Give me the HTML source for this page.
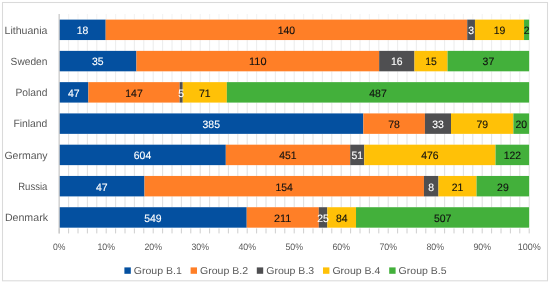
<!DOCTYPE html>
<html lang="en"><head><meta charset="utf-8"><title>Chart</title>
<style>
html,body{margin:0;padding:0;background:#fff;}
body{width:550px;height:284px;overflow:hidden;}
svg{display:block;}
text{font-family:"Liberation Sans",sans-serif;text-rendering:geometricPrecision;}
</style></head><body>
<svg width="550" height="284" viewBox="0 0 550 284">
<rect x="0" y="0" width="550" height="284" fill="#ffffff"/>
<rect x="2.5" y="2.5" width="545" height="278.3" fill="none" stroke="#DADADA" stroke-width="1.05"/>

<g stroke="#E2E2E2" stroke-width="0.65">
<line x1="68.60" y1="40.05" x2="68.60" y2="50.87"/>
<line x1="78.00" y1="40.05" x2="78.00" y2="50.87"/>
<line x1="87.40" y1="40.05" x2="87.40" y2="50.87"/>
<line x1="96.80" y1="40.05" x2="96.80" y2="50.87"/>
<line x1="106.20" y1="40.05" x2="106.20" y2="50.87"/>
<line x1="115.60" y1="40.05" x2="115.60" y2="50.87"/>
<line x1="125.00" y1="40.05" x2="125.00" y2="50.87"/>
<line x1="134.40" y1="40.05" x2="134.40" y2="50.87"/>
<line x1="143.80" y1="40.05" x2="143.80" y2="50.87"/>
<line x1="153.20" y1="40.05" x2="153.20" y2="50.87"/>
<line x1="162.60" y1="40.05" x2="162.60" y2="50.87"/>
<line x1="172.00" y1="40.05" x2="172.00" y2="50.87"/>
<line x1="181.40" y1="40.05" x2="181.40" y2="50.87"/>
<line x1="190.80" y1="40.05" x2="190.80" y2="50.87"/>
<line x1="200.20" y1="40.05" x2="200.20" y2="50.87"/>
<line x1="209.60" y1="40.05" x2="209.60" y2="50.87"/>
<line x1="219.00" y1="40.05" x2="219.00" y2="50.87"/>
<line x1="228.40" y1="40.05" x2="228.40" y2="50.87"/>
<line x1="237.80" y1="40.05" x2="237.80" y2="50.87"/>
<line x1="247.20" y1="40.05" x2="247.20" y2="50.87"/>
<line x1="256.60" y1="40.05" x2="256.60" y2="50.87"/>
<line x1="266.00" y1="40.05" x2="266.00" y2="50.87"/>
<line x1="275.40" y1="40.05" x2="275.40" y2="50.87"/>
<line x1="284.80" y1="40.05" x2="284.80" y2="50.87"/>
<line x1="294.20" y1="40.05" x2="294.20" y2="50.87"/>
<line x1="303.60" y1="40.05" x2="303.60" y2="50.87"/>
<line x1="313.00" y1="40.05" x2="313.00" y2="50.87"/>
<line x1="322.40" y1="40.05" x2="322.40" y2="50.87"/>
<line x1="331.80" y1="40.05" x2="331.80" y2="50.87"/>
<line x1="341.20" y1="40.05" x2="341.20" y2="50.87"/>
<line x1="350.60" y1="40.05" x2="350.60" y2="50.87"/>
<line x1="360.00" y1="40.05" x2="360.00" y2="50.87"/>
<line x1="369.40" y1="40.05" x2="369.40" y2="50.87"/>
<line x1="378.80" y1="40.05" x2="378.80" y2="50.87"/>
<line x1="388.20" y1="40.05" x2="388.20" y2="50.87"/>
<line x1="397.60" y1="40.05" x2="397.60" y2="50.87"/>
<line x1="407.00" y1="40.05" x2="407.00" y2="50.87"/>
<line x1="416.40" y1="40.05" x2="416.40" y2="50.87"/>
<line x1="425.80" y1="40.05" x2="425.80" y2="50.87"/>
<line x1="435.20" y1="40.05" x2="435.20" y2="50.87"/>
<line x1="444.60" y1="40.05" x2="444.60" y2="50.87"/>
<line x1="454.00" y1="40.05" x2="454.00" y2="50.87"/>
<line x1="463.40" y1="40.05" x2="463.40" y2="50.87"/>
<line x1="472.80" y1="40.05" x2="472.80" y2="50.87"/>
<line x1="482.20" y1="40.05" x2="482.20" y2="50.87"/>
<line x1="491.60" y1="40.05" x2="491.60" y2="50.87"/>
<line x1="501.00" y1="40.05" x2="501.00" y2="50.87"/>
<line x1="510.40" y1="40.05" x2="510.40" y2="50.87"/>
<line x1="519.80" y1="40.05" x2="519.80" y2="50.87"/>
<line x1="529.20" y1="40.05" x2="529.20" y2="50.87"/>
</g>
<g stroke="#E0E0E0" stroke-width="0.65">
<line x1="68.60" y1="71.32" x2="68.60" y2="82.14"/>
<line x1="78.00" y1="71.32" x2="78.00" y2="82.14"/>
<line x1="87.40" y1="71.32" x2="87.40" y2="82.14"/>
<line x1="96.80" y1="71.32" x2="96.80" y2="82.14"/>
<line x1="106.20" y1="71.32" x2="106.20" y2="82.14"/>
<line x1="115.60" y1="71.32" x2="115.60" y2="82.14"/>
<line x1="125.00" y1="71.32" x2="125.00" y2="82.14"/>
<line x1="134.40" y1="71.32" x2="134.40" y2="82.14"/>
<line x1="143.80" y1="71.32" x2="143.80" y2="82.14"/>
<line x1="153.20" y1="71.32" x2="153.20" y2="82.14"/>
<line x1="162.60" y1="71.32" x2="162.60" y2="82.14"/>
<line x1="172.00" y1="71.32" x2="172.00" y2="82.14"/>
<line x1="181.40" y1="71.32" x2="181.40" y2="82.14"/>
<line x1="190.80" y1="71.32" x2="190.80" y2="82.14"/>
<line x1="200.20" y1="71.32" x2="200.20" y2="82.14"/>
<line x1="209.60" y1="71.32" x2="209.60" y2="82.14"/>
<line x1="219.00" y1="71.32" x2="219.00" y2="82.14"/>
<line x1="228.40" y1="71.32" x2="228.40" y2="82.14"/>
<line x1="237.80" y1="71.32" x2="237.80" y2="82.14"/>
<line x1="247.20" y1="71.32" x2="247.20" y2="82.14"/>
<line x1="256.60" y1="71.32" x2="256.60" y2="82.14"/>
<line x1="266.00" y1="71.32" x2="266.00" y2="82.14"/>
<line x1="275.40" y1="71.32" x2="275.40" y2="82.14"/>
<line x1="284.80" y1="71.32" x2="284.80" y2="82.14"/>
<line x1="294.20" y1="71.32" x2="294.20" y2="82.14"/>
<line x1="303.60" y1="71.32" x2="303.60" y2="82.14"/>
<line x1="313.00" y1="71.32" x2="313.00" y2="82.14"/>
<line x1="322.40" y1="71.32" x2="322.40" y2="82.14"/>
<line x1="331.80" y1="71.32" x2="331.80" y2="82.14"/>
<line x1="341.20" y1="71.32" x2="341.20" y2="82.14"/>
<line x1="350.60" y1="71.32" x2="350.60" y2="82.14"/>
<line x1="360.00" y1="71.32" x2="360.00" y2="82.14"/>
<line x1="369.40" y1="71.32" x2="369.40" y2="82.14"/>
<line x1="378.80" y1="71.32" x2="378.80" y2="82.14"/>
<line x1="388.20" y1="71.32" x2="388.20" y2="82.14"/>
<line x1="397.60" y1="71.32" x2="397.60" y2="82.14"/>
<line x1="407.00" y1="71.32" x2="407.00" y2="82.14"/>
<line x1="416.40" y1="71.32" x2="416.40" y2="82.14"/>
<line x1="425.80" y1="71.32" x2="425.80" y2="82.14"/>
<line x1="435.20" y1="71.32" x2="435.20" y2="82.14"/>
<line x1="444.60" y1="71.32" x2="444.60" y2="82.14"/>
<line x1="454.00" y1="71.32" x2="454.00" y2="82.14"/>
<line x1="463.40" y1="71.32" x2="463.40" y2="82.14"/>
<line x1="472.80" y1="71.32" x2="472.80" y2="82.14"/>
<line x1="482.20" y1="71.32" x2="482.20" y2="82.14"/>
<line x1="491.60" y1="71.32" x2="491.60" y2="82.14"/>
<line x1="501.00" y1="71.32" x2="501.00" y2="82.14"/>
<line x1="510.40" y1="71.32" x2="510.40" y2="82.14"/>
<line x1="519.80" y1="71.32" x2="519.80" y2="82.14"/>
<line x1="529.20" y1="71.32" x2="529.20" y2="82.14"/>
</g>
<g stroke="#DADADA" stroke-width="0.65">
<line x1="68.60" y1="102.59" x2="68.60" y2="113.41"/>
<line x1="78.00" y1="102.59" x2="78.00" y2="113.41"/>
<line x1="87.40" y1="102.59" x2="87.40" y2="113.41"/>
<line x1="96.80" y1="102.59" x2="96.80" y2="113.41"/>
<line x1="106.20" y1="102.59" x2="106.20" y2="113.41"/>
<line x1="115.60" y1="102.59" x2="115.60" y2="113.41"/>
<line x1="125.00" y1="102.59" x2="125.00" y2="113.41"/>
<line x1="134.40" y1="102.59" x2="134.40" y2="113.41"/>
<line x1="143.80" y1="102.59" x2="143.80" y2="113.41"/>
<line x1="153.20" y1="102.59" x2="153.20" y2="113.41"/>
<line x1="162.60" y1="102.59" x2="162.60" y2="113.41"/>
<line x1="172.00" y1="102.59" x2="172.00" y2="113.41"/>
<line x1="181.40" y1="102.59" x2="181.40" y2="113.41"/>
<line x1="190.80" y1="102.59" x2="190.80" y2="113.41"/>
<line x1="200.20" y1="102.59" x2="200.20" y2="113.41"/>
<line x1="209.60" y1="102.59" x2="209.60" y2="113.41"/>
<line x1="219.00" y1="102.59" x2="219.00" y2="113.41"/>
<line x1="228.40" y1="102.59" x2="228.40" y2="113.41"/>
<line x1="237.80" y1="102.59" x2="237.80" y2="113.41"/>
<line x1="247.20" y1="102.59" x2="247.20" y2="113.41"/>
<line x1="256.60" y1="102.59" x2="256.60" y2="113.41"/>
<line x1="266.00" y1="102.59" x2="266.00" y2="113.41"/>
<line x1="275.40" y1="102.59" x2="275.40" y2="113.41"/>
<line x1="284.80" y1="102.59" x2="284.80" y2="113.41"/>
<line x1="294.20" y1="102.59" x2="294.20" y2="113.41"/>
<line x1="303.60" y1="102.59" x2="303.60" y2="113.41"/>
<line x1="313.00" y1="102.59" x2="313.00" y2="113.41"/>
<line x1="322.40" y1="102.59" x2="322.40" y2="113.41"/>
<line x1="331.80" y1="102.59" x2="331.80" y2="113.41"/>
<line x1="341.20" y1="102.59" x2="341.20" y2="113.41"/>
<line x1="350.60" y1="102.59" x2="350.60" y2="113.41"/>
<line x1="360.00" y1="102.59" x2="360.00" y2="113.41"/>
<line x1="369.40" y1="102.59" x2="369.40" y2="113.41"/>
<line x1="378.80" y1="102.59" x2="378.80" y2="113.41"/>
<line x1="388.20" y1="102.59" x2="388.20" y2="113.41"/>
<line x1="397.60" y1="102.59" x2="397.60" y2="113.41"/>
<line x1="407.00" y1="102.59" x2="407.00" y2="113.41"/>
<line x1="416.40" y1="102.59" x2="416.40" y2="113.41"/>
<line x1="425.80" y1="102.59" x2="425.80" y2="113.41"/>
<line x1="435.20" y1="102.59" x2="435.20" y2="113.41"/>
<line x1="444.60" y1="102.59" x2="444.60" y2="113.41"/>
<line x1="454.00" y1="102.59" x2="454.00" y2="113.41"/>
<line x1="463.40" y1="102.59" x2="463.40" y2="113.41"/>
<line x1="472.80" y1="102.59" x2="472.80" y2="113.41"/>
<line x1="482.20" y1="102.59" x2="482.20" y2="113.41"/>
<line x1="491.60" y1="102.59" x2="491.60" y2="113.41"/>
<line x1="501.00" y1="102.59" x2="501.00" y2="113.41"/>
<line x1="510.40" y1="102.59" x2="510.40" y2="113.41"/>
<line x1="519.80" y1="102.59" x2="519.80" y2="113.41"/>
<line x1="529.20" y1="102.59" x2="529.20" y2="113.41"/>
</g>
<g stroke="#D4D4D4" stroke-width="0.65">
<line x1="68.60" y1="133.86" x2="68.60" y2="144.68"/>
<line x1="78.00" y1="133.86" x2="78.00" y2="144.68"/>
<line x1="87.40" y1="133.86" x2="87.40" y2="144.68"/>
<line x1="96.80" y1="133.86" x2="96.80" y2="144.68"/>
<line x1="106.20" y1="133.86" x2="106.20" y2="144.68"/>
<line x1="115.60" y1="133.86" x2="115.60" y2="144.68"/>
<line x1="125.00" y1="133.86" x2="125.00" y2="144.68"/>
<line x1="134.40" y1="133.86" x2="134.40" y2="144.68"/>
<line x1="143.80" y1="133.86" x2="143.80" y2="144.68"/>
<line x1="153.20" y1="133.86" x2="153.20" y2="144.68"/>
<line x1="162.60" y1="133.86" x2="162.60" y2="144.68"/>
<line x1="172.00" y1="133.86" x2="172.00" y2="144.68"/>
<line x1="181.40" y1="133.86" x2="181.40" y2="144.68"/>
<line x1="190.80" y1="133.86" x2="190.80" y2="144.68"/>
<line x1="200.20" y1="133.86" x2="200.20" y2="144.68"/>
<line x1="209.60" y1="133.86" x2="209.60" y2="144.68"/>
<line x1="219.00" y1="133.86" x2="219.00" y2="144.68"/>
<line x1="228.40" y1="133.86" x2="228.40" y2="144.68"/>
<line x1="237.80" y1="133.86" x2="237.80" y2="144.68"/>
<line x1="247.20" y1="133.86" x2="247.20" y2="144.68"/>
<line x1="256.60" y1="133.86" x2="256.60" y2="144.68"/>
<line x1="266.00" y1="133.86" x2="266.00" y2="144.68"/>
<line x1="275.40" y1="133.86" x2="275.40" y2="144.68"/>
<line x1="284.80" y1="133.86" x2="284.80" y2="144.68"/>
<line x1="294.20" y1="133.86" x2="294.20" y2="144.68"/>
<line x1="303.60" y1="133.86" x2="303.60" y2="144.68"/>
<line x1="313.00" y1="133.86" x2="313.00" y2="144.68"/>
<line x1="322.40" y1="133.86" x2="322.40" y2="144.68"/>
<line x1="331.80" y1="133.86" x2="331.80" y2="144.68"/>
<line x1="341.20" y1="133.86" x2="341.20" y2="144.68"/>
<line x1="350.60" y1="133.86" x2="350.60" y2="144.68"/>
<line x1="360.00" y1="133.86" x2="360.00" y2="144.68"/>
<line x1="369.40" y1="133.86" x2="369.40" y2="144.68"/>
<line x1="378.80" y1="133.86" x2="378.80" y2="144.68"/>
<line x1="388.20" y1="133.86" x2="388.20" y2="144.68"/>
<line x1="397.60" y1="133.86" x2="397.60" y2="144.68"/>
<line x1="407.00" y1="133.86" x2="407.00" y2="144.68"/>
<line x1="416.40" y1="133.86" x2="416.40" y2="144.68"/>
<line x1="425.80" y1="133.86" x2="425.80" y2="144.68"/>
<line x1="435.20" y1="133.86" x2="435.20" y2="144.68"/>
<line x1="444.60" y1="133.86" x2="444.60" y2="144.68"/>
<line x1="454.00" y1="133.86" x2="454.00" y2="144.68"/>
<line x1="463.40" y1="133.86" x2="463.40" y2="144.68"/>
<line x1="472.80" y1="133.86" x2="472.80" y2="144.68"/>
<line x1="482.20" y1="133.86" x2="482.20" y2="144.68"/>
<line x1="491.60" y1="133.86" x2="491.60" y2="144.68"/>
<line x1="501.00" y1="133.86" x2="501.00" y2="144.68"/>
<line x1="510.40" y1="133.86" x2="510.40" y2="144.68"/>
<line x1="519.80" y1="133.86" x2="519.80" y2="144.68"/>
<line x1="529.20" y1="133.86" x2="529.20" y2="144.68"/>
</g>
<g stroke="#CECECE" stroke-width="0.65">
<line x1="68.60" y1="165.13" x2="68.60" y2="175.95"/>
<line x1="78.00" y1="165.13" x2="78.00" y2="175.95"/>
<line x1="87.40" y1="165.13" x2="87.40" y2="175.95"/>
<line x1="96.80" y1="165.13" x2="96.80" y2="175.95"/>
<line x1="106.20" y1="165.13" x2="106.20" y2="175.95"/>
<line x1="115.60" y1="165.13" x2="115.60" y2="175.95"/>
<line x1="125.00" y1="165.13" x2="125.00" y2="175.95"/>
<line x1="134.40" y1="165.13" x2="134.40" y2="175.95"/>
<line x1="143.80" y1="165.13" x2="143.80" y2="175.95"/>
<line x1="153.20" y1="165.13" x2="153.20" y2="175.95"/>
<line x1="162.60" y1="165.13" x2="162.60" y2="175.95"/>
<line x1="172.00" y1="165.13" x2="172.00" y2="175.95"/>
<line x1="181.40" y1="165.13" x2="181.40" y2="175.95"/>
<line x1="190.80" y1="165.13" x2="190.80" y2="175.95"/>
<line x1="200.20" y1="165.13" x2="200.20" y2="175.95"/>
<line x1="209.60" y1="165.13" x2="209.60" y2="175.95"/>
<line x1="219.00" y1="165.13" x2="219.00" y2="175.95"/>
<line x1="228.40" y1="165.13" x2="228.40" y2="175.95"/>
<line x1="237.80" y1="165.13" x2="237.80" y2="175.95"/>
<line x1="247.20" y1="165.13" x2="247.20" y2="175.95"/>
<line x1="256.60" y1="165.13" x2="256.60" y2="175.95"/>
<line x1="266.00" y1="165.13" x2="266.00" y2="175.95"/>
<line x1="275.40" y1="165.13" x2="275.40" y2="175.95"/>
<line x1="284.80" y1="165.13" x2="284.80" y2="175.95"/>
<line x1="294.20" y1="165.13" x2="294.20" y2="175.95"/>
<line x1="303.60" y1="165.13" x2="303.60" y2="175.95"/>
<line x1="313.00" y1="165.13" x2="313.00" y2="175.95"/>
<line x1="322.40" y1="165.13" x2="322.40" y2="175.95"/>
<line x1="331.80" y1="165.13" x2="331.80" y2="175.95"/>
<line x1="341.20" y1="165.13" x2="341.20" y2="175.95"/>
<line x1="350.60" y1="165.13" x2="350.60" y2="175.95"/>
<line x1="360.00" y1="165.13" x2="360.00" y2="175.95"/>
<line x1="369.40" y1="165.13" x2="369.40" y2="175.95"/>
<line x1="378.80" y1="165.13" x2="378.80" y2="175.95"/>
<line x1="388.20" y1="165.13" x2="388.20" y2="175.95"/>
<line x1="397.60" y1="165.13" x2="397.60" y2="175.95"/>
<line x1="407.00" y1="165.13" x2="407.00" y2="175.95"/>
<line x1="416.40" y1="165.13" x2="416.40" y2="175.95"/>
<line x1="425.80" y1="165.13" x2="425.80" y2="175.95"/>
<line x1="435.20" y1="165.13" x2="435.20" y2="175.95"/>
<line x1="444.60" y1="165.13" x2="444.60" y2="175.95"/>
<line x1="454.00" y1="165.13" x2="454.00" y2="175.95"/>
<line x1="463.40" y1="165.13" x2="463.40" y2="175.95"/>
<line x1="472.80" y1="165.13" x2="472.80" y2="175.95"/>
<line x1="482.20" y1="165.13" x2="482.20" y2="175.95"/>
<line x1="491.60" y1="165.13" x2="491.60" y2="175.95"/>
<line x1="501.00" y1="165.13" x2="501.00" y2="175.95"/>
<line x1="510.40" y1="165.13" x2="510.40" y2="175.95"/>
<line x1="519.80" y1="165.13" x2="519.80" y2="175.95"/>
<line x1="529.20" y1="165.13" x2="529.20" y2="175.95"/>
</g>
<g stroke="#CECECE" stroke-width="0.65">
<line x1="68.60" y1="196.40" x2="68.60" y2="207.22"/>
<line x1="78.00" y1="196.40" x2="78.00" y2="207.22"/>
<line x1="87.40" y1="196.40" x2="87.40" y2="207.22"/>
<line x1="96.80" y1="196.40" x2="96.80" y2="207.22"/>
<line x1="106.20" y1="196.40" x2="106.20" y2="207.22"/>
<line x1="115.60" y1="196.40" x2="115.60" y2="207.22"/>
<line x1="125.00" y1="196.40" x2="125.00" y2="207.22"/>
<line x1="134.40" y1="196.40" x2="134.40" y2="207.22"/>
<line x1="143.80" y1="196.40" x2="143.80" y2="207.22"/>
<line x1="153.20" y1="196.40" x2="153.20" y2="207.22"/>
<line x1="162.60" y1="196.40" x2="162.60" y2="207.22"/>
<line x1="172.00" y1="196.40" x2="172.00" y2="207.22"/>
<line x1="181.40" y1="196.40" x2="181.40" y2="207.22"/>
<line x1="190.80" y1="196.40" x2="190.80" y2="207.22"/>
<line x1="200.20" y1="196.40" x2="200.20" y2="207.22"/>
<line x1="209.60" y1="196.40" x2="209.60" y2="207.22"/>
<line x1="219.00" y1="196.40" x2="219.00" y2="207.22"/>
<line x1="228.40" y1="196.40" x2="228.40" y2="207.22"/>
<line x1="237.80" y1="196.40" x2="237.80" y2="207.22"/>
<line x1="247.20" y1="196.40" x2="247.20" y2="207.22"/>
<line x1="256.60" y1="196.40" x2="256.60" y2="207.22"/>
<line x1="266.00" y1="196.40" x2="266.00" y2="207.22"/>
<line x1="275.40" y1="196.40" x2="275.40" y2="207.22"/>
<line x1="284.80" y1="196.40" x2="284.80" y2="207.22"/>
<line x1="294.20" y1="196.40" x2="294.20" y2="207.22"/>
<line x1="303.60" y1="196.40" x2="303.60" y2="207.22"/>
<line x1="313.00" y1="196.40" x2="313.00" y2="207.22"/>
<line x1="322.40" y1="196.40" x2="322.40" y2="207.22"/>
<line x1="331.80" y1="196.40" x2="331.80" y2="207.22"/>
<line x1="341.20" y1="196.40" x2="341.20" y2="207.22"/>
<line x1="350.60" y1="196.40" x2="350.60" y2="207.22"/>
<line x1="360.00" y1="196.40" x2="360.00" y2="207.22"/>
<line x1="369.40" y1="196.40" x2="369.40" y2="207.22"/>
<line x1="378.80" y1="196.40" x2="378.80" y2="207.22"/>
<line x1="388.20" y1="196.40" x2="388.20" y2="207.22"/>
<line x1="397.60" y1="196.40" x2="397.60" y2="207.22"/>
<line x1="407.00" y1="196.40" x2="407.00" y2="207.22"/>
<line x1="416.40" y1="196.40" x2="416.40" y2="207.22"/>
<line x1="425.80" y1="196.40" x2="425.80" y2="207.22"/>
<line x1="435.20" y1="196.40" x2="435.20" y2="207.22"/>
<line x1="444.60" y1="196.40" x2="444.60" y2="207.22"/>
<line x1="454.00" y1="196.40" x2="454.00" y2="207.22"/>
<line x1="463.40" y1="196.40" x2="463.40" y2="207.22"/>
<line x1="472.80" y1="196.40" x2="472.80" y2="207.22"/>
<line x1="482.20" y1="196.40" x2="482.20" y2="207.22"/>
<line x1="491.60" y1="196.40" x2="491.60" y2="207.22"/>
<line x1="501.00" y1="196.40" x2="501.00" y2="207.22"/>
<line x1="510.40" y1="196.40" x2="510.40" y2="207.22"/>
<line x1="519.80" y1="196.40" x2="519.80" y2="207.22"/>
<line x1="529.20" y1="196.40" x2="529.20" y2="207.22"/>
</g>
<g stroke="#ECECEC" stroke-width="0.65">
<line x1="68.60" y1="14.0" x2="68.60" y2="19.6"/>
<line x1="78.00" y1="14.0" x2="78.00" y2="19.6"/>
<line x1="87.40" y1="14.0" x2="87.40" y2="19.6"/>
<line x1="96.80" y1="14.0" x2="96.80" y2="19.6"/>
<line x1="106.20" y1="14.0" x2="106.20" y2="19.6"/>
<line x1="115.60" y1="14.0" x2="115.60" y2="19.6"/>
<line x1="125.00" y1="14.0" x2="125.00" y2="19.6"/>
<line x1="134.40" y1="14.0" x2="134.40" y2="19.6"/>
<line x1="143.80" y1="14.0" x2="143.80" y2="19.6"/>
<line x1="153.20" y1="14.0" x2="153.20" y2="19.6"/>
<line x1="162.60" y1="14.0" x2="162.60" y2="19.6"/>
<line x1="172.00" y1="14.0" x2="172.00" y2="19.6"/>
<line x1="181.40" y1="14.0" x2="181.40" y2="19.6"/>
<line x1="190.80" y1="14.0" x2="190.80" y2="19.6"/>
<line x1="200.20" y1="14.0" x2="200.20" y2="19.6"/>
<line x1="209.60" y1="14.0" x2="209.60" y2="19.6"/>
<line x1="219.00" y1="14.0" x2="219.00" y2="19.6"/>
<line x1="228.40" y1="14.0" x2="228.40" y2="19.6"/>
<line x1="237.80" y1="14.0" x2="237.80" y2="19.6"/>
<line x1="247.20" y1="14.0" x2="247.20" y2="19.6"/>
<line x1="256.60" y1="14.0" x2="256.60" y2="19.6"/>
<line x1="266.00" y1="14.0" x2="266.00" y2="19.6"/>
<line x1="275.40" y1="14.0" x2="275.40" y2="19.6"/>
<line x1="284.80" y1="14.0" x2="284.80" y2="19.6"/>
<line x1="294.20" y1="14.0" x2="294.20" y2="19.6"/>
<line x1="303.60" y1="14.0" x2="303.60" y2="19.6"/>
<line x1="313.00" y1="14.0" x2="313.00" y2="19.6"/>
<line x1="322.40" y1="14.0" x2="322.40" y2="19.6"/>
<line x1="331.80" y1="14.0" x2="331.80" y2="19.6"/>
<line x1="341.20" y1="14.0" x2="341.20" y2="19.6"/>
<line x1="350.60" y1="14.0" x2="350.60" y2="19.6"/>
<line x1="360.00" y1="14.0" x2="360.00" y2="19.6"/>
<line x1="369.40" y1="14.0" x2="369.40" y2="19.6"/>
<line x1="378.80" y1="14.0" x2="378.80" y2="19.6"/>
<line x1="388.20" y1="14.0" x2="388.20" y2="19.6"/>
<line x1="397.60" y1="14.0" x2="397.60" y2="19.6"/>
<line x1="407.00" y1="14.0" x2="407.00" y2="19.6"/>
<line x1="416.40" y1="14.0" x2="416.40" y2="19.6"/>
<line x1="425.80" y1="14.0" x2="425.80" y2="19.6"/>
<line x1="435.20" y1="14.0" x2="435.20" y2="19.6"/>
<line x1="444.60" y1="14.0" x2="444.60" y2="19.6"/>
<line x1="454.00" y1="14.0" x2="454.00" y2="19.6"/>
<line x1="463.40" y1="14.0" x2="463.40" y2="19.6"/>
<line x1="472.80" y1="14.0" x2="472.80" y2="19.6"/>
<line x1="482.20" y1="14.0" x2="482.20" y2="19.6"/>
<line x1="491.60" y1="14.0" x2="491.60" y2="19.6"/>
<line x1="501.00" y1="14.0" x2="501.00" y2="19.6"/>
<line x1="510.40" y1="14.0" x2="510.40" y2="19.6"/>
<line x1="519.80" y1="14.0" x2="519.80" y2="19.6"/>
<line x1="529.20" y1="14.0" x2="529.20" y2="19.6"/>
</g>
<g stroke="#C8C8C8" stroke-width="0.9">
<line x1="59.20" y1="228.4" x2="59.20" y2="233.4"/>
<line x1="68.60" y1="228.4" x2="68.60" y2="233.4"/>
<line x1="78.00" y1="228.4" x2="78.00" y2="233.4"/>
<line x1="87.40" y1="228.4" x2="87.40" y2="233.4"/>
<line x1="96.80" y1="228.4" x2="96.80" y2="233.4"/>
<line x1="106.20" y1="228.4" x2="106.20" y2="233.4"/>
<line x1="115.60" y1="228.4" x2="115.60" y2="233.4"/>
<line x1="125.00" y1="228.4" x2="125.00" y2="233.4"/>
<line x1="134.40" y1="228.4" x2="134.40" y2="233.4"/>
<line x1="143.80" y1="228.4" x2="143.80" y2="233.4"/>
<line x1="153.20" y1="228.4" x2="153.20" y2="233.4"/>
<line x1="162.60" y1="228.4" x2="162.60" y2="233.4"/>
<line x1="172.00" y1="228.4" x2="172.00" y2="233.4"/>
<line x1="181.40" y1="228.4" x2="181.40" y2="233.4"/>
<line x1="190.80" y1="228.4" x2="190.80" y2="233.4"/>
<line x1="200.20" y1="228.4" x2="200.20" y2="233.4"/>
<line x1="209.60" y1="228.4" x2="209.60" y2="233.4"/>
<line x1="219.00" y1="228.4" x2="219.00" y2="233.4"/>
<line x1="228.40" y1="228.4" x2="228.40" y2="233.4"/>
<line x1="237.80" y1="228.4" x2="237.80" y2="233.4"/>
<line x1="247.20" y1="228.4" x2="247.20" y2="233.4"/>
<line x1="256.60" y1="228.4" x2="256.60" y2="233.4"/>
<line x1="266.00" y1="228.4" x2="266.00" y2="233.4"/>
<line x1="275.40" y1="228.4" x2="275.40" y2="233.4"/>
<line x1="284.80" y1="228.4" x2="284.80" y2="233.4"/>
<line x1="294.20" y1="228.4" x2="294.20" y2="233.4"/>
<line x1="303.60" y1="228.4" x2="303.60" y2="233.4"/>
<line x1="313.00" y1="228.4" x2="313.00" y2="233.4"/>
<line x1="322.40" y1="228.4" x2="322.40" y2="233.4"/>
<line x1="331.80" y1="228.4" x2="331.80" y2="233.4"/>
<line x1="341.20" y1="228.4" x2="341.20" y2="233.4"/>
<line x1="350.60" y1="228.4" x2="350.60" y2="233.4"/>
<line x1="360.00" y1="228.4" x2="360.00" y2="233.4"/>
<line x1="369.40" y1="228.4" x2="369.40" y2="233.4"/>
<line x1="378.80" y1="228.4" x2="378.80" y2="233.4"/>
<line x1="388.20" y1="228.4" x2="388.20" y2="233.4"/>
<line x1="397.60" y1="228.4" x2="397.60" y2="233.4"/>
<line x1="407.00" y1="228.4" x2="407.00" y2="233.4"/>
<line x1="416.40" y1="228.4" x2="416.40" y2="233.4"/>
<line x1="425.80" y1="228.4" x2="425.80" y2="233.4"/>
<line x1="435.20" y1="228.4" x2="435.20" y2="233.4"/>
<line x1="444.60" y1="228.4" x2="444.60" y2="233.4"/>
<line x1="454.00" y1="228.4" x2="454.00" y2="233.4"/>
<line x1="463.40" y1="228.4" x2="463.40" y2="233.4"/>
<line x1="472.80" y1="228.4" x2="472.80" y2="233.4"/>
<line x1="482.20" y1="228.4" x2="482.20" y2="233.4"/>
<line x1="491.60" y1="228.4" x2="491.60" y2="233.4"/>
<line x1="501.00" y1="228.4" x2="501.00" y2="233.4"/>
<line x1="510.40" y1="228.4" x2="510.40" y2="233.4"/>
<line x1="519.80" y1="228.4" x2="519.80" y2="233.4"/>
<line x1="529.20" y1="228.4" x2="529.20" y2="233.4"/>
</g>
<rect x="59.20" y="19.60" width="46.48" height="20.45" fill="#0450A0"/>
<rect x="105.68" y="19.60" width="361.54" height="20.45" fill="#FF7F27"/>
<rect x="467.22" y="19.60" width="7.75" height="20.45" fill="#4F4F51"/>
<rect x="474.97" y="19.60" width="49.07" height="20.45" fill="#FFC107"/>
<rect x="524.04" y="19.60" width="5.16" height="20.45" fill="#43B03B"/>
<rect x="59.20" y="50.87" width="77.23" height="20.45" fill="#0450A0"/>
<rect x="136.43" y="50.87" width="242.72" height="20.45" fill="#FF7F27"/>
<rect x="379.15" y="50.87" width="35.31" height="20.45" fill="#4F4F51"/>
<rect x="414.46" y="50.87" width="33.10" height="20.45" fill="#FFC107"/>
<rect x="447.56" y="50.87" width="81.64" height="20.45" fill="#43B03B"/>
<rect x="59.20" y="82.14" width="29.18" height="20.45" fill="#0450A0"/>
<rect x="88.38" y="82.14" width="91.27" height="20.45" fill="#FF7F27"/>
<rect x="179.65" y="82.14" width="3.10" height="20.45" fill="#4F4F51"/>
<rect x="182.75" y="82.14" width="44.08" height="20.45" fill="#FFC107"/>
<rect x="226.84" y="82.14" width="302.36" height="20.45" fill="#43B03B"/>
<rect x="59.20" y="113.41" width="304.12" height="20.45" fill="#0450A0"/>
<rect x="363.32" y="113.41" width="61.61" height="20.45" fill="#FF7F27"/>
<rect x="424.93" y="113.41" width="26.07" height="20.45" fill="#4F4F51"/>
<rect x="451.00" y="113.41" width="62.40" height="20.45" fill="#FFC107"/>
<rect x="513.40" y="113.41" width="15.80" height="20.45" fill="#43B03B"/>
<rect x="59.20" y="144.68" width="166.60" height="20.45" fill="#0450A0"/>
<rect x="225.80" y="144.68" width="124.40" height="20.45" fill="#FF7F27"/>
<rect x="350.19" y="144.68" width="14.07" height="20.45" fill="#4F4F51"/>
<rect x="364.26" y="144.68" width="131.29" height="20.45" fill="#FFC107"/>
<rect x="495.55" y="144.68" width="33.65" height="20.45" fill="#43B03B"/>
<rect x="59.20" y="175.95" width="85.29" height="20.45" fill="#0450A0"/>
<rect x="144.49" y="175.95" width="279.46" height="20.45" fill="#FF7F27"/>
<rect x="423.95" y="175.95" width="14.52" height="20.45" fill="#4F4F51"/>
<rect x="438.47" y="175.95" width="38.11" height="20.45" fill="#FFC107"/>
<rect x="476.57" y="175.95" width="52.63" height="20.45" fill="#43B03B"/>
<rect x="59.20" y="207.22" width="187.52" height="20.45" fill="#0450A0"/>
<rect x="246.72" y="207.22" width="72.07" height="20.45" fill="#FF7F27"/>
<rect x="318.79" y="207.22" width="8.54" height="20.45" fill="#4F4F51"/>
<rect x="327.33" y="207.22" width="28.69" height="20.45" fill="#FFC107"/>
<rect x="356.02" y="207.22" width="173.18" height="20.45" fill="#43B03B"/>
<line x1="59.15" y1="14.0" x2="59.15" y2="233.4" stroke="#C6C6C6" stroke-width="1.2"/>
<g font-size="10.7" text-anchor="middle" stroke-width="0.12">
<text x="82.44" y="34.15" fill="#ffffff" stroke="#ffffff" textLength="11.60" lengthAdjust="spacingAndGlyphs">18</text>
<text x="286.45" y="34.15" fill="#111111" stroke="#111111" textLength="17.40" lengthAdjust="spacingAndGlyphs">140</text>
<text x="471.10" y="34.15" fill="#ffffff" stroke="#ffffff" textLength="5.80" lengthAdjust="spacingAndGlyphs">3</text>
<text x="499.50" y="34.15" fill="#111111" stroke="#111111" textLength="11.60" lengthAdjust="spacingAndGlyphs">19</text>
<text x="526.62" y="34.15" fill="#111111" stroke="#111111" textLength="5.80" lengthAdjust="spacingAndGlyphs">2</text>
<text x="97.82" y="65.42" fill="#ffffff" stroke="#ffffff" textLength="11.60" lengthAdjust="spacingAndGlyphs">35</text>
<text x="257.79" y="65.42" fill="#111111" stroke="#111111" textLength="17.40" lengthAdjust="spacingAndGlyphs">110</text>
<text x="396.81" y="65.42" fill="#ffffff" stroke="#ffffff" textLength="11.60" lengthAdjust="spacingAndGlyphs">16</text>
<text x="431.01" y="65.42" fill="#111111" stroke="#111111" textLength="11.60" lengthAdjust="spacingAndGlyphs">15</text>
<text x="488.38" y="65.42" fill="#111111" stroke="#111111" textLength="11.60" lengthAdjust="spacingAndGlyphs">37</text>
<text x="73.79" y="96.69" fill="#ffffff" stroke="#ffffff" textLength="11.60" lengthAdjust="spacingAndGlyphs">47</text>
<text x="134.02" y="96.69" fill="#111111" stroke="#111111" textLength="17.40" lengthAdjust="spacingAndGlyphs">147</text>
<text x="181.20" y="96.69" fill="#ffffff" stroke="#ffffff" textLength="5.80" lengthAdjust="spacingAndGlyphs">5</text>
<text x="204.79" y="96.69" fill="#111111" stroke="#111111" textLength="11.60" lengthAdjust="spacingAndGlyphs">71</text>
<text x="378.02" y="96.69" fill="#111111" stroke="#111111" textLength="17.40" lengthAdjust="spacingAndGlyphs">487</text>
<text x="211.26" y="127.96" fill="#ffffff" stroke="#ffffff" textLength="17.40" lengthAdjust="spacingAndGlyphs">385</text>
<text x="394.12" y="127.96" fill="#111111" stroke="#111111" textLength="11.60" lengthAdjust="spacingAndGlyphs">78</text>
<text x="437.96" y="127.96" fill="#ffffff" stroke="#ffffff" textLength="11.60" lengthAdjust="spacingAndGlyphs">33</text>
<text x="482.20" y="127.96" fill="#111111" stroke="#111111" textLength="11.60" lengthAdjust="spacingAndGlyphs">79</text>
<text x="521.30" y="127.96" fill="#111111" stroke="#111111" textLength="11.60" lengthAdjust="spacingAndGlyphs">20</text>
<text x="142.50" y="159.23" fill="#ffffff" stroke="#ffffff" textLength="17.40" lengthAdjust="spacingAndGlyphs">604</text>
<text x="287.99" y="159.23" fill="#111111" stroke="#111111" textLength="17.40" lengthAdjust="spacingAndGlyphs">451</text>
<text x="357.23" y="159.23" fill="#ffffff" stroke="#ffffff" textLength="11.60" lengthAdjust="spacingAndGlyphs">51</text>
<text x="429.90" y="159.23" fill="#111111" stroke="#111111" textLength="17.40" lengthAdjust="spacingAndGlyphs">476</text>
<text x="512.37" y="159.23" fill="#111111" stroke="#111111" textLength="17.40" lengthAdjust="spacingAndGlyphs">122</text>
<text x="101.84" y="190.50" fill="#ffffff" stroke="#ffffff" textLength="11.60" lengthAdjust="spacingAndGlyphs">47</text>
<text x="284.22" y="190.50" fill="#111111" stroke="#111111" textLength="17.40" lengthAdjust="spacingAndGlyphs">154</text>
<text x="431.21" y="190.50" fill="#ffffff" stroke="#ffffff" textLength="5.80" lengthAdjust="spacingAndGlyphs">8</text>
<text x="457.52" y="190.50" fill="#111111" stroke="#111111" textLength="11.60" lengthAdjust="spacingAndGlyphs">21</text>
<text x="502.89" y="190.50" fill="#111111" stroke="#111111" textLength="11.60" lengthAdjust="spacingAndGlyphs">29</text>
<text x="152.96" y="221.77" fill="#ffffff" stroke="#ffffff" textLength="17.40" lengthAdjust="spacingAndGlyphs">549</text>
<text x="282.76" y="221.77" fill="#111111" stroke="#111111" textLength="17.40" lengthAdjust="spacingAndGlyphs">211</text>
<text x="323.06" y="221.77" fill="#ffffff" stroke="#ffffff" textLength="11.60" lengthAdjust="spacingAndGlyphs">25</text>
<text x="341.68" y="221.77" fill="#111111" stroke="#111111" textLength="11.60" lengthAdjust="spacingAndGlyphs">84</text>
<text x="442.61" y="221.77" fill="#111111" stroke="#111111" textLength="17.40" lengthAdjust="spacingAndGlyphs">507</text>
</g>
<g font-size="10.5" fill="#595959">
<text x="4.5" y="33.53" textLength="42.90" lengthAdjust="spacingAndGlyphs">Lithuania</text>
<text x="10.6" y="64.80" textLength="36.80" lengthAdjust="spacingAndGlyphs">Sweden</text>
<text x="15.4" y="96.06" textLength="32.00" lengthAdjust="spacingAndGlyphs">Poland</text>
<text x="13.4" y="127.33" textLength="34.00" lengthAdjust="spacingAndGlyphs">Finland</text>
<text x="4.4" y="158.60" textLength="43.20" lengthAdjust="spacingAndGlyphs">Germany</text>
<text x="18.2" y="189.87" textLength="29.20" lengthAdjust="spacingAndGlyphs">Russia</text>
<text x="4.9" y="221.14" textLength="43.10" lengthAdjust="spacingAndGlyphs">Denmark</text>
</g>
<g font-size="9.4" fill="#595959" text-anchor="middle">
<text x="59.20" y="250.0" textLength="12.5" lengthAdjust="spacingAndGlyphs">0%</text>
<text x="106.20" y="250.0" textLength="17.6" lengthAdjust="spacingAndGlyphs">10%</text>
<text x="153.20" y="250.0" textLength="17.6" lengthAdjust="spacingAndGlyphs">20%</text>
<text x="200.20" y="250.0" textLength="17.6" lengthAdjust="spacingAndGlyphs">30%</text>
<text x="247.20" y="250.0" textLength="17.6" lengthAdjust="spacingAndGlyphs">40%</text>
<text x="294.20" y="250.0" textLength="17.6" lengthAdjust="spacingAndGlyphs">50%</text>
<text x="341.20" y="250.0" textLength="17.6" lengthAdjust="spacingAndGlyphs">60%</text>
<text x="388.20" y="250.0" textLength="17.6" lengthAdjust="spacingAndGlyphs">70%</text>
<text x="435.20" y="250.0" textLength="17.6" lengthAdjust="spacingAndGlyphs">80%</text>
<text x="482.20" y="250.0" textLength="17.6" lengthAdjust="spacingAndGlyphs">90%</text>
<text x="529.20" y="250.0" textLength="23.0" lengthAdjust="spacingAndGlyphs">100%</text>
</g>
<g font-size="10" fill="#595959">
<rect x="124.40" y="267.4" width="6.4" height="6.4" fill="#0450A0"/>
<text x="133.80" y="274.1" textLength="48.0" lengthAdjust="spacingAndGlyphs">Group B.1</text>
<rect x="190.60" y="267.4" width="6.4" height="6.4" fill="#FF7F27"/>
<text x="200.00" y="274.1" textLength="48.0" lengthAdjust="spacingAndGlyphs">Group B.2</text>
<rect x="256.80" y="267.4" width="6.4" height="6.4" fill="#4F4F51"/>
<text x="266.20" y="274.1" textLength="48.0" lengthAdjust="spacingAndGlyphs">Group B.3</text>
<rect x="323.00" y="267.4" width="6.4" height="6.4" fill="#FFC107"/>
<text x="332.40" y="274.1" textLength="48.0" lengthAdjust="spacingAndGlyphs">Group B.4</text>
<rect x="389.20" y="267.4" width="6.4" height="6.4" fill="#43B03B"/>
<text x="398.60" y="274.1" textLength="48.0" lengthAdjust="spacingAndGlyphs">Group B.5</text>
</g>
</svg>
</body></html>
